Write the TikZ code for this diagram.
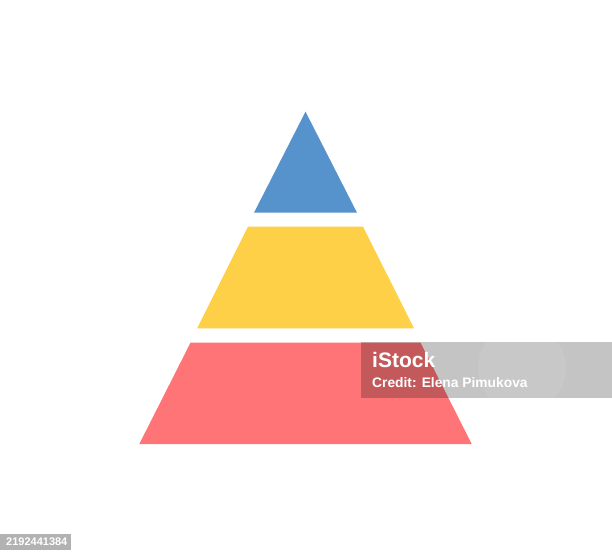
\documentclass[tikz,border=0pt]{standalone}
\usepackage{fontspec}
\setmainfont{Liberation Sans}
\definecolor{pblue}{HTML}{5692CC}
\definecolor{pyellow}{HTML}{FDD047}
\definecolor{pred}{HTML}{FF7577}
\begin{document}
\begin{tikzpicture}[x=1pt,y=-1pt,
  wm/.style={text=white,font=\bfseries,inner sep=0pt,anchor=west}]
\useasboundingbox (0,0) rectangle (612,556);
\fill[white] (0,0) rectangle (612,556);
% pyramid
\fill[pblue]   (305.5,111.7) -- (357,212.7) -- (254,212.7) -- cycle;
\fill[pyellow] (248,226.7) -- (363,226.7) -- (414,328.3) -- (197.2,328.3) -- cycle;
\fill[pred]    (190.5,342.7) -- (420.5,342.7) -- (471.7,444) -- (139.3,444) -- cycle;
% watermark
\begin{scope}
\clip (361,342) rectangle (612,398);
\fill[black,opacity=0.23] (361,342) rectangle (612,398);
\fill[white,opacity=0.08] (522,368) circle (44);
\end{scope}
\node[wm,font=\bfseries\fontsize{21}{21}\selectfont] (istock) at (372,360) {iStock};
\node[wm,font=\bfseries\fontsize{13.8}{14}\selectfont] (credit) at (372,382.5) {Credit: Elena Pimukova};
\fill[black,opacity=0.3] (0,534) rectangle (71,550);
\node[wm,font=\bfseries\fontsize{11}{11}\selectfont] (id) at (6,542) {2192441384};
\end{tikzpicture}
\end{document}
